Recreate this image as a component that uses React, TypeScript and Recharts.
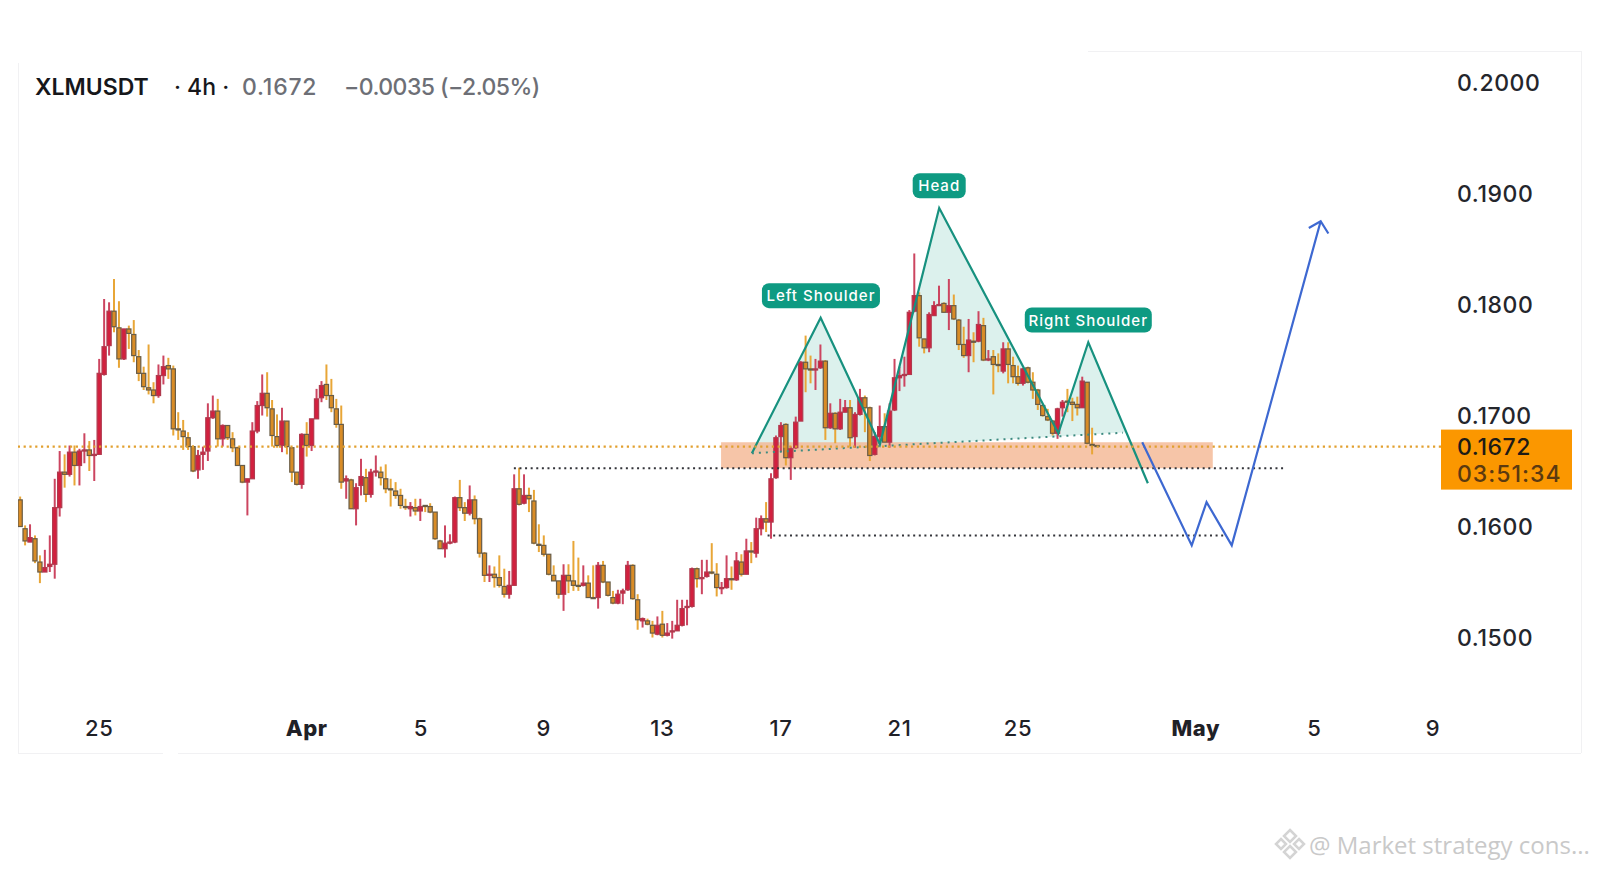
// App.tsx - XLMUSDT 4h head and shoulders chart
import {
  Area,
  Bar,
  ComposedChart,
  Line,
  ReferenceArea,
  ReferenceDot,
  ReferenceLine,
  XAxis,
  YAxis,
} from "recharts";

// candles, 4h apart; first candle is startDay days from Apr 1
const startDay = -9.667;
const opens = [
  0.1624,0.1598,0.1586,0.1589,0.1568,0.1559,0.1564,0.1566,0.1617,0.1649,
  0.1647,0.1667,0.1655,0.1668,0.1669,0.1664,0.1665,0.1737,0.1763,0.1794,
  0.1779,0.1751,0.1778,0.1773,0.1753,0.1738,0.1725,0.1723,0.1718,0.1736,
  0.1745,0.1742,0.1688,0.1686,0.1680,0.1672,0.1651,0.1665,0.1668,0.1698,
  0.1704,0.1679,0.1691,0.1679,0.1671,0.1655,0.1640,0.1643,0.1686,0.1709,
  0.1720,0.1706,0.1681,0.1673,0.1695,0.1671,0.1649,0.1638,0.1683,0.1673,
  0.1697,0.1716,0.1728,0.1718,0.1706,0.1692,0.1641,0.1642,0.1616,0.1637,
  0.1644,0.1629,0.1649,0.1649,0.1643,0.1634,0.1632,0.1628,0.1618,0.1616,
  0.1617,0.1614,0.1619,0.1618,0.1613,0.1587,0.1580,0.1585,0.1586,0.1626,
  0.1617,0.1612,0.1624,0.1607,0.1576,0.1556,0.1557,0.1554,0.1546,0.1539,
  0.1547,0.1634,0.1621,0.1628,0.1623,0.1584,0.1583,0.1575,0.1556,0.1551,
  0.1539,0.1556,0.1551,0.1547,0.1547,0.1549,0.1536,0.1536,0.1565,0.1550,
  0.1536,0.1531,0.1540,0.1543,0.1565,0.1534,0.1515,0.1515,0.1511,0.1503,
  0.1512,0.1502,0.1505,0.1506,0.1511,0.1527,0.1528,0.1562,0.1553,0.1555,
  0.1559,0.1557,0.1544,0.1545,0.1553,0.1552,0.1568,0.1557,0.1578,0.1576,
  0.1598,0.1607,0.1604,0.1644,0.1681,0.1692,0.1662,0.1671,0.1695,0.1748,
  0.1742,0.1741,0.1743,0.1749,0.1689,0.1702,0.1688,0.1703,0.1707,0.1681,
  0.1701,0.1716,0.1707,0.1665,0.1681,0.1690,0.1676,0.1705,0.1734,0.1736,
  0.1737,0.1794,0.1808,0.1769,0.1761,0.1790,0.1799,0.1801,0.1793,0.1799,
  0.1786,0.1764,0.1754,0.1767,0.1767,0.1781,0.1750,0.1753,0.1746,0.1740,
  0.1760,0.1745,0.1735,0.1729,0.1743,0.1730,0.1723,0.1709,0.1699,0.1695,
  0.1684,0.1707,0.1713,0.1712,0.1710,0.1707,0.1730,0.1674,0.1673,
];
const closes = [
  0.1600,0.1587,0.1590,0.1569,0.1559,0.1563,0.1566,0.1617,0.1649,0.1647,
  0.1667,0.1655,0.1668,0.1669,0.1664,0.1665,0.1738,0.1762,0.1794,0.1780,
  0.1751,0.1778,0.1774,0.1754,0.1738,0.1726,0.1723,0.1718,0.1736,0.1744,
  0.1742,0.1688,0.1687,0.1681,0.1672,0.1650,0.1664,0.1667,0.1698,0.1704,
  0.1679,0.1691,0.1680,0.1671,0.1655,0.1640,0.1643,0.1686,0.1709,0.1720,
  0.1707,0.1682,0.1673,0.1695,0.1672,0.1649,0.1638,0.1683,0.1673,0.1697,
  0.1715,0.1727,0.1718,0.1707,0.1692,0.1640,0.1643,0.1616,0.1635,0.1645,
  0.1629,0.1649,0.1650,0.1644,0.1634,0.1633,0.1628,0.1619,0.1617,0.1618,
  0.1614,0.1618,0.1618,0.1613,0.1589,0.1580,0.1585,0.1586,0.1626,0.1617,
  0.1612,0.1624,0.1607,0.1576,0.1556,0.1557,0.1554,0.1547,0.1539,0.1547,
  0.1634,0.1620,0.1628,0.1625,0.1585,0.1583,0.1575,0.1557,0.1551,0.1539,
  0.1556,0.1551,0.1547,0.1546,0.1549,0.1536,0.1535,0.1565,0.1550,0.1538,
  0.1531,0.1539,0.1542,0.1565,0.1535,0.1516,0.1517,0.1512,0.1504,0.1511,
  0.1502,0.1504,0.1506,0.1511,0.1526,0.1528,0.1562,0.1553,0.1554,0.1559,
  0.1558,0.1545,0.1545,0.1553,0.1552,0.1569,0.1557,0.1578,0.1577,0.1598,
  0.1607,0.1604,0.1643,0.1680,0.1691,0.1662,0.1670,0.1694,0.1748,0.1742,
  0.1741,0.1742,0.1749,0.1689,0.1702,0.1688,0.1703,0.1707,0.1680,0.1701,
  0.1716,0.1707,0.1664,0.1681,0.1690,0.1676,0.1704,0.1734,0.1736,0.1737,
  0.1793,0.1808,0.1770,0.1761,0.1791,0.1799,0.1800,0.1793,0.1799,0.1787,
  0.1764,0.1754,0.1768,0.1766,0.1782,0.1750,0.1751,0.1746,0.1745,0.1760,
  0.1746,0.1735,0.1729,0.1742,0.1730,0.1723,0.1710,0.1700,0.1696,0.1684,
  0.1706,0.1712,0.1712,0.1710,0.1707,0.1731,0.1675,0.1673,0.1672,
];
const highs = [
  0.1627,0.1601,0.1602,0.1592,0.1574,0.1579,0.1592,0.1643,0.1668,0.1665,
  0.1673,0.1673,0.1670,0.1684,0.1677,0.1678,0.1751,0.1805,0.1802,0.1823,
  0.1803,0.1778,0.1781,0.1786,0.1759,0.1744,0.1764,0.1730,0.1746,0.1754,
  0.1752,0.1745,0.1703,0.1696,0.1685,0.1673,0.1669,0.1672,0.1711,0.1718,
  0.1715,0.1692,0.1691,0.1685,0.1672,0.1655,0.1643,0.1694,0.1713,0.1737,
  0.1739,0.1714,0.1701,0.1707,0.1695,0.1671,0.1649,0.1684,0.1694,0.1697,
  0.1724,0.1731,0.1746,0.1733,0.1715,0.1709,0.1646,0.1643,0.1639,0.1661,
  0.1652,0.1652,0.1664,0.1654,0.1656,0.1643,0.1640,0.1634,0.1625,0.1622,
  0.1625,0.1625,0.1619,0.1621,0.1613,0.1588,0.1601,0.1593,0.1627,0.1642,
  0.1622,0.1637,0.1628,0.1608,0.1577,0.1565,0.1564,0.1574,0.1562,0.1560,
  0.1647,0.1653,0.1647,0.1635,0.1633,0.1602,0.1592,0.1575,0.1565,0.1551,
  0.1566,0.1566,0.1587,0.1572,0.1565,0.1556,0.1565,0.1568,0.1569,0.1550,
  0.1542,0.1543,0.1544,0.1569,0.1566,0.1539,0.1518,0.1517,0.1515,0.1519,
  0.1524,0.1513,0.1515,0.1534,0.1534,0.1534,0.1563,0.1563,0.1570,0.1570,
  0.1585,0.1567,0.1550,0.1574,0.1564,0.1577,0.1575,0.1589,0.1586,0.1608,
  0.1610,0.1622,0.1648,0.1682,0.1694,0.1693,0.1672,0.1699,0.1749,0.1772,
  0.1754,0.1751,0.1764,0.1750,0.1711,0.1703,0.1715,0.1714,0.1714,0.1703,
  0.1724,0.1718,0.1708,0.1685,0.1709,0.1702,0.1711,0.1751,0.1744,0.1753,
  0.1795,0.1846,0.1811,0.1769,0.1793,0.1803,0.1817,0.1802,0.1823,0.1809,
  0.1787,0.1780,0.1787,0.1775,0.1794,0.1788,0.1759,0.1759,0.1756,0.1766,
  0.1766,0.1753,0.1745,0.1743,0.1744,0.1739,0.1724,0.1710,0.1706,0.1696,
  0.1707,0.1714,0.1724,0.1716,0.1717,0.1735,0.1730,0.1689,0.1673,
];
const lows = [
  0.1600,0.1583,0.1586,0.1567,0.1549,0.1559,0.1559,0.1553,0.1609,0.1635,
  0.1645,0.1637,0.1637,0.1657,0.1650,0.1641,0.1665,0.1736,0.1754,0.1775,
  0.1743,0.1750,0.1760,0.1748,0.1731,0.1723,0.1719,0.1711,0.1716,0.1728,
  0.1733,0.1682,0.1678,0.1669,0.1669,0.1649,0.1643,0.1651,0.1659,0.1697,
  0.1672,0.1672,0.1678,0.1667,0.1655,0.1639,0.1610,0.1643,0.1684,0.1700,
  0.1699,0.1672,0.1671,0.1667,0.1665,0.1640,0.1637,0.1634,0.1663,0.1668,
  0.1697,0.1712,0.1714,0.1703,0.1689,0.1634,0.1625,0.1616,0.1601,0.1628,
  0.1622,0.1626,0.1645,0.1637,0.1630,0.1618,0.1625,0.1616,0.1615,0.1609,
  0.1610,0.1605,0.1613,0.1612,0.1588,0.1580,0.1572,0.1584,0.1585,0.1614,
  0.1605,0.1610,0.1602,0.1572,0.1550,0.1550,0.1545,0.1545,0.1536,0.1535,
  0.1547,0.1619,0.1620,0.1613,0.1584,0.1577,0.1573,0.1556,0.1551,0.1535,
  0.1524,0.1540,0.1542,0.1542,0.1546,0.1536,0.1535,0.1526,0.1549,0.1537,
  0.1530,0.1530,0.1530,0.1542,0.1534,0.1507,0.1509,0.1511,0.1500,0.1502,
  0.1500,0.1501,0.1499,0.1506,0.1510,0.1511,0.1527,0.1545,0.1539,0.1554,
  0.1557,0.1537,0.1539,0.1544,0.1543,0.1551,0.1555,0.1557,0.1567,0.1572,
  0.1592,0.1595,0.1589,0.1643,0.1667,0.1655,0.1642,0.1670,0.1695,0.1721,
  0.1729,0.1723,0.1742,0.1678,0.1688,0.1675,0.1687,0.1703,0.1672,0.1671,
  0.1700,0.1685,0.1659,0.1664,0.1675,0.1676,0.1671,0.1704,0.1722,0.1726,
  0.1737,0.1793,0.1762,0.1756,0.1757,0.1790,0.1799,0.1793,0.1777,0.1786,
  0.1759,0.1752,0.1739,0.1748,0.1766,0.1749,0.1749,0.1719,0.1739,0.1738,
  0.1729,0.1729,0.1727,0.1727,0.1729,0.1715,0.1705,0.1699,0.1695,0.1682,
  0.1679,0.1699,0.1703,0.1695,0.1700,0.1707,0.1674,0.1665,0.1672,
];

// axis ticks
const dayTicks = [-7, 0, 3.85, 8, 12, 16, 20, 24, 30, 34, 38];
const dayLabels = ["25", "Apr", "5", "9", "13", "17", "21", "25", "May", "5", "9"];
const priceTicks = [0.15, 0.16, 0.17, 0.18, 0.19, 0.2];
const lastPrice = 0.1672;

// head and shoulders drawing
const patternDays = [15.02, 17.34, 19.34, 21.34, 25.36, 26.37, 28.38];
const patternPrices = [0.1666, 0.1788, 0.1674, 0.1887, 0.1684, 0.1766, 0.1639];
const fillDays = [15.02, 17.34, 19.34, 21.34, 25.36, 26.37, 27.65];
const fillTops = [0.1666, 0.1788, 0.1674, 0.1887, 0.1684, 0.1766, 0.1685];
const fillBottoms = [0.1666, 0.1669, 0.1672, 0.1675, 0.1681, 0.1683, 0.1685];
const necklineDays = [15.02, 27.54];
const necklinePrices = [0.1666, 0.16845];

// projected path and its arrow head
const pathDays = [28.19, 29.86, 30.36, 31.21, 34.21];
const pathPrices = [0.1676, 0.1583, 0.1622, 0.1583, 0.1875];
const headDays = [33.81, 34.21, 34.47];
const headPrices = [0.1869, 0.1875, 0.1864];

const zone = { from: 13.98, to: 30.57, top: 0.1676, bottom: 0.16525 };
const support1 = { from: 6.99, to: 33.04, price: 0.16525 };
const support2 = { from: 15.55, to: 31.04, price: 0.1592 };

const labels = [
  { text: "Left Shoulder", day: 17.35, price: 0.1808, w: 118 },
  { text: "Head", day: 21.34, price: 0.1907, w: 53 },
  { text: "Right Shoulder", day: 26.37, price: 0.1786, w: 127 },
];

const candles = opens.map((o, i) => ({
  t: startDay + i / 6,
  range: [lows[i], highs[i]],
  open: o,
  close: closes[i],
  high: highs[i],
  low: lows[i],
}));
const toPoints = (days: number[], prices: number[]) =>
  days.map((t, i) => ({ t, p: prices[i] }));
const fillData = fillDays.map((t, i) => ({ t, band: [fillBottoms[i], fillTops[i]] }));

const FONT = "Inter, sans-serif";

function Candle(props: any) {
  const { x, y, width, height, payload } = props;
  const { open, close, high, low } = payload;
  const cx = x + width / 2;
  const k = height / (high - low || 1);
  const up = close > open;
  const bodyTop = y + (high - Math.max(open, close)) * k;
  const bodyH = Math.max(Math.abs(open - close) * k, 1);
  return (
    <g>
      <line x1={cx} x2={cx} y1={y} y2={y + height} stroke={up ? "#cc4560" : "#e8a637"} strokeWidth={2} />
      <rect
        x={cx - 2.1}
        y={bodyTop}
        width={4.2}
        height={bodyH}
        fill={up ? "#d3203e" : "#d98c26"}
        stroke={up ? "#b03a4e" : "#685c47"}
        strokeWidth={1.2}
      />
    </g>
  );
}

function DayTick({ x, y, payload }: any) {
  const label = dayLabels[dayTicks.indexOf(payload.value)];
  const bold = isNaN(Number(label));
  return (
    <text
      x={x}
      y={y + 20}
      textAnchor="middle"
      dominantBaseline="central"
      fontFamily={FONT}
      fontSize={22}
      fontWeight={bold ? 800 : 500}
      letterSpacing={0.6}
      fill="#1f2127"
    >
      {label}
    </text>
  );
}

function PriceTag({ viewBox }: any) {
  const right = viewBox.x + viewBox.width;
  const y = viewBox.y;
  return (
    <g fontFamily={FONT} fontSize={23} fontWeight={500}>
      <rect x={right} y={y - 17} width={131} height={60} fill="#fb9700" />
      <text x={right + 16} y={y} dominantBaseline="central" fill="#1d1b16" letterSpacing={0.6}>
        {lastPrice.toFixed(4)}
      </text>
      <text x={right + 16} y={y + 27} dominantBaseline="central" fill="#5b3a10" letterSpacing={1}>
        03:51:34
      </text>
    </g>
  );
}

function Pill({ cx, cy, text, w }: any) {
  return (
    <g>
      <rect x={cx - w / 2} y={cy - 12.5} width={w} height={25} rx={7} fill="#0e9a82" />
      <text
        x={cx}
        y={cy}
        textAnchor="middle"
        dominantBaseline="central"
        fontFamily={FONT}
        fontSize={15}
        fontWeight={500}
        letterSpacing={1}
        fill="#ffffff"
      >
        {text}
      </text>
    </g>
  );
}

const headerStyle: any = {
  position: "absolute",
  top: 71,
  fontFamily: FONT,
  fontSize: 23,
  lineHeight: "32px",
  whiteSpace: "nowrap",
};
const frameLine = "#f1f1f3";

export default function App() {
  return (
    <div style={{ position: "absolute", left: 0, top: 0, width: 1600, height: 869, background: "#fff", overflow: "hidden" }}>
      {/* faint pane frame */}
      <div style={{ position: "absolute", left: 18, top: 63, width: 1, height: 690, background: frameLine }} />
      <div style={{ position: "absolute", left: 1581, top: 51, width: 1, height: 702, background: frameLine }} />
      <div style={{ position: "absolute", left: 1088, top: 51, width: 493, height: 1, background: frameLine }} />
      <div style={{ position: "absolute", left: 18, top: 753, width: 145, height: 1, background: frameLine }} />
      <div style={{ position: "absolute", left: 178, top: 753, width: 1403, height: 1, background: frameLine }} />

      <ComposedChart
        width={1600}
        height={869}
        data={candles}
        margin={{ top: 63, right: 19, bottom: 116, left: 18 }}
        style={{ position: "absolute", left: 0, top: 0 }}
      >
        <XAxis
          dataKey="t"
          type="number"
          domain={[-9.74, 38.27]}
          ticks={dayTicks}
          interval={0}
          allowDataOverflow
          axisLine={false}
          tickLine={false}
          height={53}
          tick={<DayTick />}
        />
        <YAxis
          orientation="right"
          type="number"
          domain={[0.14437, 0.20176]}
          ticks={priceTicks}
          interval={0}
          allowDataOverflow
          width={140}
          axisLine={false}
          tickLine={false}
          tickSize={0}
          tickMargin={16}
          tickFormatter={(v: number) => v.toFixed(4)}
          tick={{ fontFamily: FONT, fontSize: 23, fontWeight: 500, letterSpacing: 0.6, fill: "#24262c" }}
        />

        <Area
          data={fillData}
          dataKey="band"
          type="linear"
          stroke="none"
          fill="#dcf1ed"
          fillOpacity={1}
          dot={false}
          activeDot={false}
          isAnimationActive={false}
        />
        <ReferenceArea
          x1={zone.from}
          x2={zone.to}
          y1={zone.bottom}
          y2={zone.top}
          fill="#f4b792"
          fillOpacity={0.8}
          stroke="none"
        />
        <Line
          data={toPoints(patternDays, patternPrices)}
          dataKey="p"
          type="linear"
          stroke="#17917f"
          strokeWidth={2.2}
          dot={false}
          activeDot={false}
          isAnimationActive={false}
        />
        <Line
          data={toPoints(necklineDays, necklinePrices)}
          dataKey="p"
          type="linear"
          stroke="#3d8a80"
          strokeWidth={2}
          strokeDasharray="2 5"
          dot={false}
          activeDot={false}
          isAnimationActive={false}
        />
        <ReferenceLine
          y={lastPrice}
          stroke="#e2a02f"
          strokeWidth={2.2}
          strokeDasharray="2.2 3.6"
          label={<PriceTag />}
        />
        <ReferenceLine
          segment={[
            { x: support1.from, y: support1.price },
            { x: support1.to, y: support1.price },
          ]}
          stroke="#33343a"
          strokeWidth={2}
          strokeDasharray="2 3.6"
        />
        <ReferenceLine
          segment={[
            { x: support2.from, y: support2.price },
            { x: support2.to, y: support2.price },
          ]}
          stroke="#33343a"
          strokeWidth={2}
          strokeDasharray="2 3.6"
        />
        <Bar dataKey="range" barSize={4} shape={<Candle />} isAnimationActive={false} />
        <Line
          data={toPoints(pathDays, pathPrices)}
          dataKey="p"
          type="linear"
          stroke="#3d68d1"
          strokeWidth={2.2}
          dot={false}
          activeDot={false}
          isAnimationActive={false}
        />
        <Line
          data={toPoints(headDays, headPrices)}
          dataKey="p"
          type="linear"
          stroke="#3d68d1"
          strokeWidth={2.2}
          dot={false}
          activeDot={false}
          isAnimationActive={false}
        />
        {labels.map((l) => (
          <ReferenceDot
            key={l.text}
            x={l.day}
            y={l.price}
            shape={(p: any) => <Pill cx={p.cx} cy={p.cy} text={l.text} w={l.w} />}
          />
        ))}
      </ComposedChart>

      {/* header */}
      <div style={{ ...headerStyle, left: 35, fontWeight: 600, color: "#16171b" }}>XLMUSDT</div>
      <div style={{ ...headerStyle, left: 174, fontWeight: 500, color: "#16171b" }}>· 4h ·</div>
      <div style={{ ...headerStyle, left: 242, fontWeight: 500, color: "#6d6f76", letterSpacing: 0.8 }}>0.1672</div>
      <div style={{ ...headerStyle, left: 344, fontWeight: 500, color: "#6d6f76", letterSpacing: -0.55 }}>−0.0035 (−2.05%)</div>

      {/* watermark */}
      <svg style={{ position: "absolute", left: 1274, top: 828, width: 32, height: 32 }} viewBox="0 0 32 32">
        <g fill="none" stroke="#d4d4d4" strokeWidth={2.5}>
          <path d="M16 2l6 6-6 6-6-6z" />
          <path d="M7 11l5 5-5 5-5-5z" />
          <path d="M25 11l5 5-5 5-5-5z" />
          <path d="M16 18l6 6-6 6-6-6z" />
        </g>
      </svg>
      <div
        style={{
          position: "absolute",
          left: 1309,
          top: 828,
          fontFamily: "'Open Sans', sans-serif",
          fontSize: 24,
          lineHeight: "34px",
          color: "#c9c9c9",
          whiteSpace: "nowrap",
        }}
      >
        @ Market strategy cons...
      </div>
    </div>
  );
}
